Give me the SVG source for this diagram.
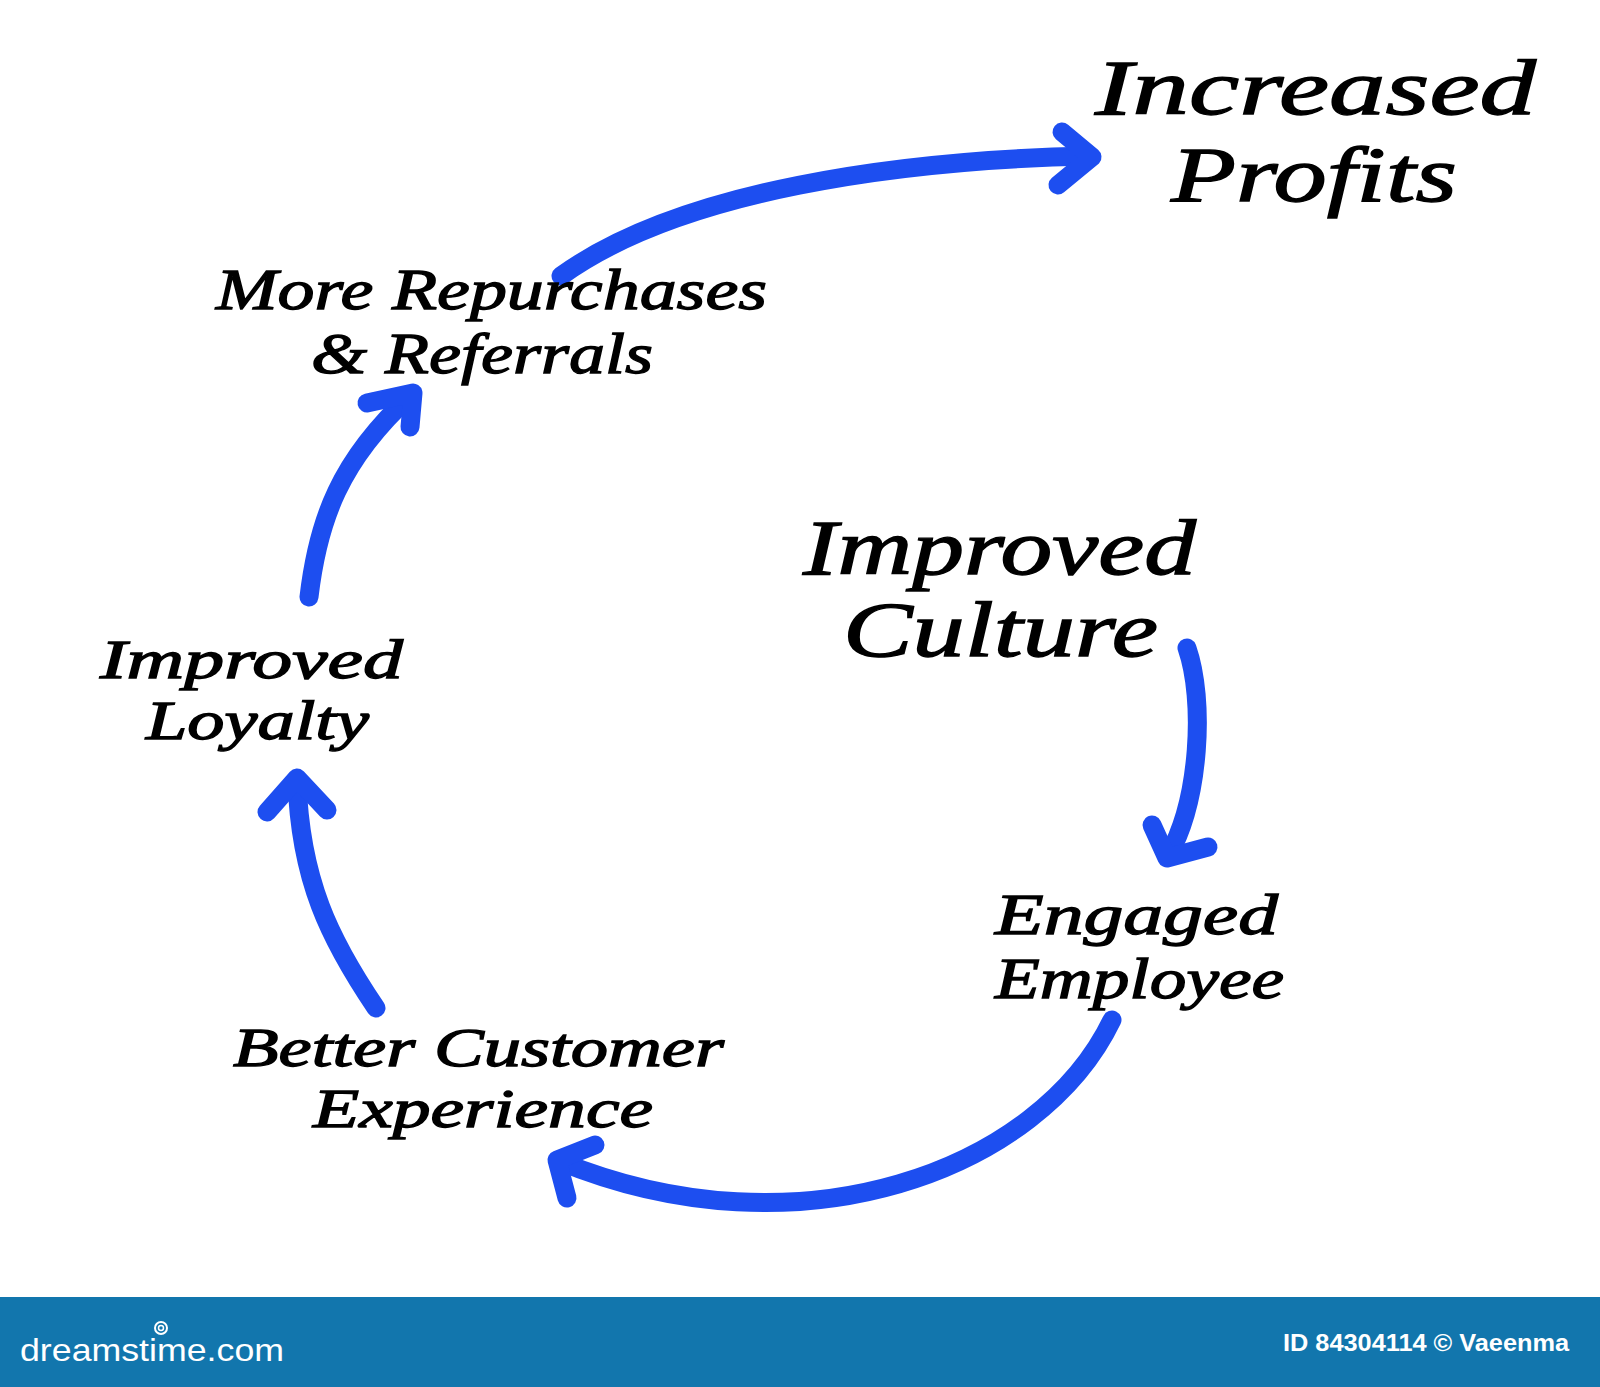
<svg xmlns="http://www.w3.org/2000/svg" width="1600" height="1387" viewBox="0 0 1600 1387">
<style>
.lbl{font-family:"Liberation Serif","DejaVu Serif",serif;font-style:italic;fill:#000;stroke:#000;stroke-width:1.3;}
.big{font-size:78px;}
.mid{font-size:58px;}
.sm{font-size:55px;}
.arr{fill:none;stroke:#1d4ef0;stroke-width:19;stroke-linecap:round;stroke-linejoin:round;}
.foot{font-family:"Liberation Sans","DejaVu Sans",sans-serif;fill:#fff;}
</style>
<rect width="1600" height="1387" fill="#fff"/>
<g id="connectors">
  <g id="a1"><path class="arr" d="M561,276 C680,190 900,160 1090,156"/><path class="arr" d="M1062,132 L1092,157 L1058,185"/></g>
  <g id="a2"><path class="arr" d="M309,597 C318,520 340,460 411,395"/><path class="arr" d="M367,403 L413,393 L410,427"/></g>
  <g id="a3"><path class="arr" d="M376,1008 C330,940 300,880 297,780"/><path class="arr" d="M267,812 L297,778 L327,810"/></g>
  <g id="a4"><path class="arr" d="M1187,648 C1205,700 1200,800 1168,856"/><path class="arr" d="M1152,825 L1167,858 L1208,847"/></g>
  <g id="a5"><path class="arr" d="M1112,1020 C1040,1170 800,1260 559,1161"/><path class="arr" d="M595,1145 L557,1160 L567,1198"/></g>
</g>
<g id="n-profits">
  <text class="lbl big" x="1095" y="114" textLength="441" lengthAdjust="spacingAndGlyphs">Increased</text>
  <text class="lbl big" x="1171" y="201" textLength="286" lengthAdjust="spacingAndGlyphs">Profits</text>
</g>
<g id="n-repurchases">
  <text class="lbl mid" x="216" y="309" textLength="551" lengthAdjust="spacingAndGlyphs">More Repurchases</text>
  <text class="lbl mid" x="311" y="373" textLength="342" lengthAdjust="spacingAndGlyphs">&amp; Referrals</text>
</g>
<g id="n-loyalty">
  <text class="lbl sm" x="100" y="678" textLength="303" lengthAdjust="spacingAndGlyphs">Improved</text>
  <text class="lbl sm" x="146" y="739" textLength="223" lengthAdjust="spacingAndGlyphs">Loyalty</text>
</g>
<g id="n-culture">
  <text class="lbl big" x="803" y="574" textLength="393" lengthAdjust="spacingAndGlyphs">Improved</text>
  <text class="lbl big" x="843" y="656" textLength="315" lengthAdjust="spacingAndGlyphs">Culture</text>
</g>
<g id="n-employee">
  <text class="lbl mid" x="995" y="934" textLength="283" lengthAdjust="spacingAndGlyphs">Engaged</text>
  <text class="lbl mid" x="995" y="998" textLength="289" lengthAdjust="spacingAndGlyphs">Employee</text>
</g>
<g id="n-experience">
  <text class="lbl sm" x="233" y="1066" textLength="491" lengthAdjust="spacingAndGlyphs">Better Customer</text>
  <text class="lbl sm" x="313" y="1127" textLength="340" lengthAdjust="spacingAndGlyphs">Experience</text>
</g>
<g id="footer">
  <rect x="0" y="1297" width="1600" height="90" fill="#1276ad"/>
  <circle cx="161" cy="1328" r="6" fill="none" stroke="#fff" stroke-width="2"/>
  <circle cx="161" cy="1328" r="2.5" fill="none" stroke="#fff" stroke-width="1.5"/>
  <text class="foot" x="20" y="1361" font-size="32" textLength="264" lengthAdjust="spacingAndGlyphs">dreamstime.com</text>
  <text class="foot" x="1283" y="1351" font-size="24" font-weight="bold" textLength="286" lengthAdjust="spacingAndGlyphs">ID 84304114 © Vaeenma</text>
</g>
</svg>
